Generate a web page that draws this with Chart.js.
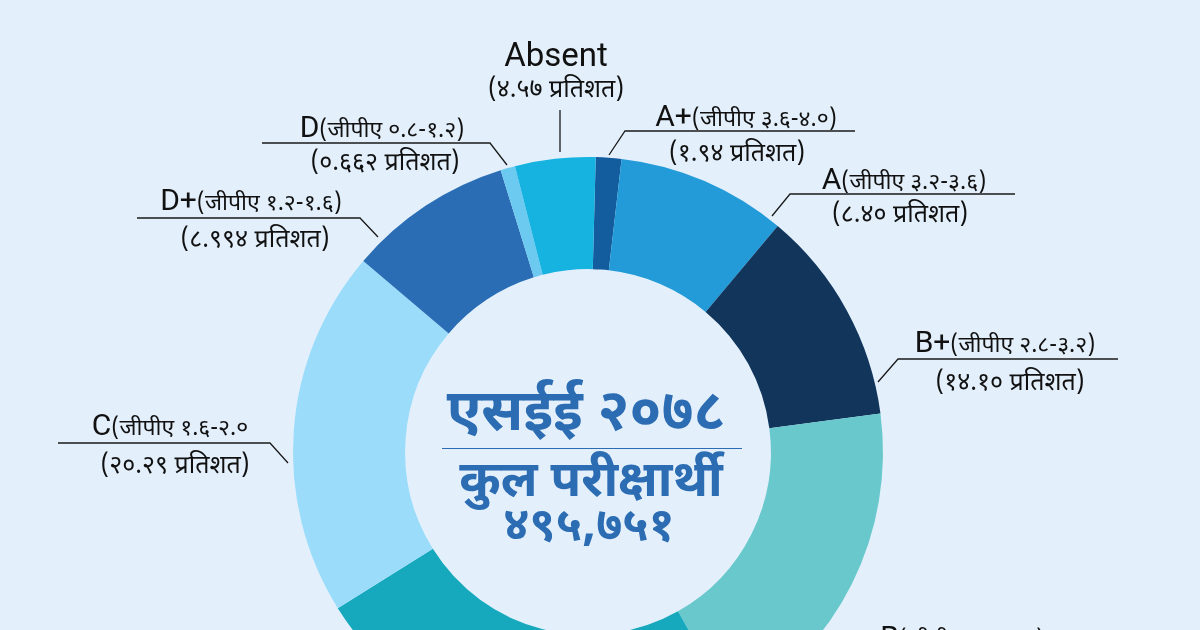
<!DOCTYPE html>
<html>
<head>
<meta charset="utf-8">
<script src="https://cdn.jsdelivr.net/npm/chart.js@4.4.1/dist/chart.umd.min.js"></script>
<style>
  html, body { margin: 0; padding: 0; background: #e3f0fc; width: 1200px; height: 630px; overflow: hidden; }
  #wrap { position: absolute; left: 0; top: 0; width: 1200px; height: 904px; }
</style>
</head>
<body>
<div id="wrap"><canvas id="chart" width="1200" height="904"></canvas></div>
<script>
// SEE 2078 grade distribution
const grades = ['A+', 'A', 'B+', 'B', 'C+', 'C', 'D+', 'D', 'Absent'];
const gpaRanges = ['(जीपीए ३.६-४.०)', '(जीपीए ३.२-३.६)', '(जीपीए २.८-३.२)', '(जीपीए २.४-२.८)', '(जीपीए २.०-२.४)', '(जीपीए १.६-२.०', '(जीपीए १.२-१.६)', '(जीपीए ०.८-१.२)', ''];
const percentText = ['१.९४', '८.४०', '१४.१०', '१८.९', '२४.३', '२०.२९', '८.९९४', '०.६६२', '४.५७'];
// slice sizes as drawn in the graphic (percent)
const arcShares = [1.4, 9.3, 11.8, 18.9, 24.3, 20.1, 9.0, 0.8, 4.4];
const colors = ['#135d9e', '#229bd8', '#12355b', '#68c8cc', '#16a9bd', '#9adcfa', '#2a6db5', '#6ccaf0', '#16b2e0'];

// label placement: line = leader polyline, tx/ty = title centre above line, px/py = percent text below
const labelLayout = {
  'Absent': { line: [[560, 152], [560, 110]], tx: 556, ty: 66, px: 556, py: 97, big: true },
  'A+': { line: [[609, 155], [625, 131], [855, 131]], tx: 746, ty: 126, px: 737, py: 161 },
  'A':  { line: [[772, 216], [790, 194], [1015, 194]], tx: 904, ty: 189, px: 900, py: 222 },
  'B+': { line: [[878, 382], [898, 359], [1118, 359]], tx: 1005, ty: 352, px: 1010, py: 390 },
  'C':  { line: [[288, 463], [270, 443], [58, 443]], tx: 170, ty: 435, px: 175, py: 473 },
  'D+': { line: [[378, 237], [360, 218], [137, 218]], tx: 251, ty: 210, px: 255, py: 247 },
  'D':  { line: [[507, 165], [490, 143], [262, 143]], tx: 382, ty: 137, px: 385, py: 170 },
  'B':  { line: [], tx: 962, ty: 647, px: 962, py: 685 }
};

const devaFont = "'Noto Sans Devanagari', 'Noto Sans', Roboto, sans-serif";

const labelPlugin = {
  id: 'gradeLabels',
  afterDraw(c) {
    const ctx = c.ctx;
    ctx.save();
    // centre text
    const arc = c.getDatasetMeta(0).data[0];
    const cx = arc.x, cy = arc.y;
    ctx.fillStyle = '#2b6cb3';
    ctx.textAlign = 'center';
    ctx.textBaseline = 'alphabetic';
    ctx.font = 'bold 57px ' + devaFont;
    ctx.fillText('एसईई २०७८', cx - 2, cy - 22);
    ctx.strokeStyle = '#2b6cb3';
    ctx.lineWidth = 1;
    ctx.beginPath();
    ctx.moveTo(cx - 146, cy - 3.5);
    ctx.lineTo(cx + 154, cy - 3.5);
    ctx.stroke();
    ctx.font = 'bold 50px ' + devaFont;
    ctx.fillText('कुल परीक्षार्थी', cx + 3, cy + 44);
    ctx.font = 'bold 47px ' + devaFont;
    ctx.fillText('४९५,७५१', cx + 1, cy + 88);

    // outer labels
    grades.forEach((g, i) => {
      const L = labelLayout[g];
      if (!L) return;
      ctx.strokeStyle = '#1a1a1a';
      ctx.lineWidth = 1.3;
      if (L.line.length) {
        ctx.beginPath();
        L.line.forEach((p, k) => k ? ctx.lineTo(p[0], p[1]) : ctx.moveTo(p[0], p[1]));
        ctx.stroke();
      }
      ctx.fillStyle = '#111';
      ctx.textBaseline = 'alphabetic';
      const gFont = L.big ? '33px Roboto' : '30px Roboto';
      const rFont = '23px ' + devaFont;
      ctx.font = gFont;
      const gw = ctx.measureText(g).width;
      ctx.font = rFont;
      const rw = ctx.measureText(gpaRanges[i]).width;
      const x0 = L.tx - (gw + rw) / 2;
      ctx.textAlign = 'left';
      ctx.font = gFont;
      ctx.fillText(g, x0, L.ty);
      ctx.font = rFont;
      ctx.fillText(gpaRanges[i], x0 + gw, L.ty);
      ctx.textAlign = 'center';
      ctx.font = '25px ' + devaFont;
      ctx.fillText('(' + percentText[i] + ' प्रतिशत)', L.px, L.py);
    });
    ctx.restore();
  }
};

new Chart(document.getElementById('chart'), {
  type: 'doughnut',
  data: {
    labels: grades,
    datasets: [{
      data: arcShares,
      backgroundColor: colors,
      borderWidth: 0
    }]
  },
  options: {
    responsive: false,
    animation: false,
    rotation: 1.5,
    cutout: '62%',
    layout: { padding: { top: 157, left: 293, right: 317, bottom: 157 } },
    plugins: {
      legend: { display: false },
      tooltip: { enabled: false }
    }
  },
  plugins: [labelPlugin]
});
</script>
</body>
</html>
